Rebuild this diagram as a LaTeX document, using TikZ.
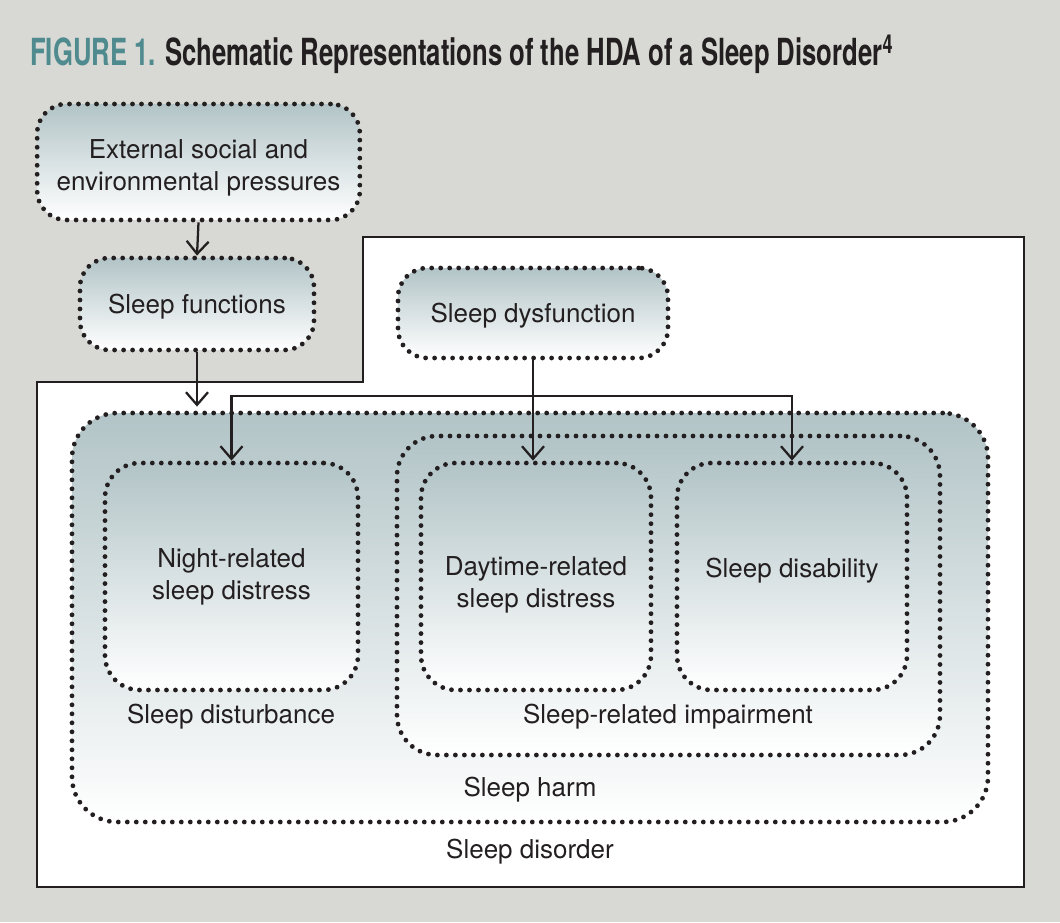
\documentclass[tikz,border=0pt]{standalone}
\usepackage{fontspec}
\setmainfont{TeX Gyre Heros}
\usepackage{graphicx}
\usepackage{tikz}
\usetikzlibrary{positioning,arrows.meta}

\definecolor{ink}{HTML}{231F20}
\definecolor{paper}{RGB}{216,217,212}
\definecolor{figteal}{RGB}{78,138,142}
\definecolor{shadetop}{RGB}{178,196,199}

\begin{document}
\begin{tikzpicture}[
  x=0.75pt, y=-0.75pt,
  every node/.style={font=\fontsize{19.5}{24}\selectfont, text=ink},
  dotbox/.style={draw=ink, line width=3.6pt, dash pattern=on 0pt off 6.75pt, line cap=round,
    top color=shadetop, bottom color=white, align=center, inner sep=0pt},
  link/.style={draw=ink, line width=1.7pt, -{Straight Barb[length=9.5pt,width=16.5pt]}}
]
\useasboundingbox (0,0) rectangle (1060,922);
\fill[paper] (0,0) rectangle (1060,922);

% title
\node[anchor=base west, inner sep=0pt, font=\fontsize{28}{30}\selectfont\bfseries] (title) at (30,65.5)
  {\resizebox{647pt}{\height}{\textcolor{figteal}{FIGURE 1.} Schematic Representations of the HDA of a Sleep Disorder\textsuperscript{4}}};

% sleep disorder frame
\draw[ink, line width=1.5pt, fill=white] (37,382) -- (363,382) -- (363,237) -- (1024,237) -- (1024,887) -- (37,887) -- cycle;

% upper boxes
\node[dotbox, rounded corners=22pt, minimum width=242pt, minimum height=87pt, text height=47pt] (pressures) at (198.5,162)
  {External social and\\environmental pressures};
\node[dotbox, rounded corners=22pt, minimum width=175.5pt, minimum height=69pt, text height=18.5pt] (functions) at (197,304)
  {Sleep functions};
\node[dotbox, rounded corners=22pt, minimum width=202.5pt, minimum height=67.5pt, text height=18.5pt] (dysfunction) at (533,313)
  {Sleep dysfunction};

% nested boxes
\node[dotbox, rounded corners=34pt, minimum width=687pt, minimum height=306.75pt] (harm) at (530,617.5) {};
\node[dotbox, rounded corners=30pt, minimum width=407.25pt, minimum height=239.25pt] (impairment) at (668.5,595.5) {};
\node[dotbox, rounded corners=26pt, minimum width=189.75pt, minimum height=170.25pt] (nightdistress) at (231.5,576.5)
  {Night-related\\sleep distress};
\node[dotbox, rounded corners=26pt, minimum width=172.5pt, minimum height=170.25pt, text height=50pt] (daydistress) at (536,576.5)
  {Daytime-related\\sleep distress};
\node[dotbox, rounded corners=26pt, minimum width=172.5pt, minimum height=170.25pt, text depth=13pt] (disability) at (792,576.5)
  {Sleep disability};

% labels
\node (disturbancelbl) at (231,717) {Sleep disturbance};
\node (impairmentlbl) at (668,717) {Sleep-related impairment};
\node (harmlbl) at (530,790) {Sleep harm};
\node (disorderlbl) at (530,852) {Sleep disorder};

% connectors
\draw[link] (pressures.south) -- (functions.north);
\draw[link, shorten >=3pt] (functions.south) -- (functions.south |- harm.north);
\coordinate (fork) at (533,396);
\draw[link] (dysfunction.south) -- (dysfunction.south |- daydistress.north);
\draw[link] (fork) -| (nightdistress.north);
\draw[link] (fork) -| (disability.north);
\end{tikzpicture}
\end{document}
